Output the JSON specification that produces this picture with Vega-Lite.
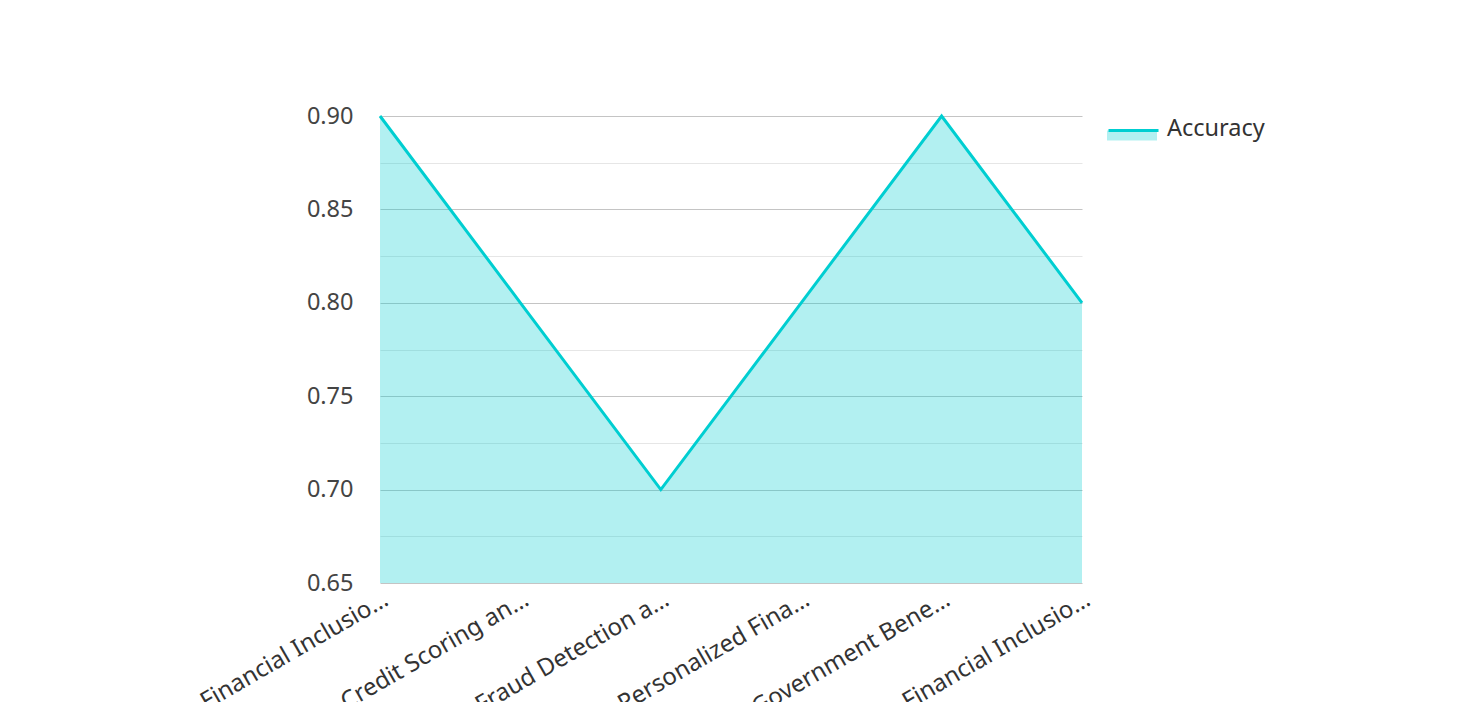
{
  "$schema": "https://vega.github.io/schema/vega-lite/v6.json",
  "width": 702,
  "height": 467,
  "autosize": {"type": "none"},
  "padding": {"left": 380, "top": 116, "right": 376, "bottom": 119},
  "background": "white",
  "config": {
    "font": "Noto Sans",
    "view": {"stroke": null}
  },
  "data": {
    "values": [
      {"category": "Financial Inclusion Assessment", "accuracy": 0.9, "series": "Accuracy"},
      {"category": "Credit Scoring and Risk", "accuracy": 0.8, "series": "Accuracy"},
      {"category": "Fraud Detection and Prevention", "accuracy": 0.7, "series": "Accuracy"},
      {"category": "Personalized Financial Advice", "accuracy": 0.8, "series": "Accuracy"},
      {"category": "Government Benefits Distribution", "accuracy": 0.9, "series": "Accuracy"},
      {"category": "Financial Inclusion Monitoring", "accuracy": 0.8, "series": "Accuracy"}
    ]
  },
  "encoding": {
    "x": {
      "field": "category",
      "type": "nominal",
      "sort": null,
      "scale": {"type": "point", "padding": 0},
      "axis": {
        "title": null,
        "labelAngle": -30,
        "labelAlign": "right",
        "labelBaseline": "top",
        "labelFontSize": 24,
        "labelColor": "#333333",
        "labelLimit": 226,
        "labelPadding": 4,
        "ticks": false,
        "domain": false,
        "grid": false
      }
    },
    "y": {
      "field": "accuracy",
      "type": "quantitative",
      "scale": {"domain": [0.65, 0.9], "nice": false, "zero": false},
      "axis": {
        "title": null,
        "values": [0.65, 0.675, 0.7, 0.725, 0.75, 0.775, 0.8, 0.825, 0.85, 0.875, 0.9],
        "labelExpr": "round(datum.value*1000) % 50 == 0 ? format(datum.value, '.2f') : ''",
        "labelFontSize": 23.5,
        "labelColor": "#444444",
        "labelPadding": 27,
        "ticks": false,
        "domain": false,
        "grid": true,
        "gridColor": {
          "condition": {"test": "round(datum.value*1000) % 50 == 0", "value": "#c4c4c4"},
          "value": "#e6e6e6"
        },
        "gridWidth": 1
      }
    }
  },
  "layer": [
    {
      "mark": {"type": "area", "fillOpacity": 0.3},
      "encoding": {
        "y2": {"datum": 0.65},
        "fill": {
          "field": "series",
          "type": "nominal",
          "scale": {"range": ["#00CED1"]},
          "legend": {
            "title": null,
            "orient": "none",
            "legendX": 727,
            "legendY": -12,
            "padding": 0,
            "symbolType": "M-1,0.06H1V0.46H-1Z",
            "symbolSize": 2500,
            "symbolOpacity": 0.3,
            "symbolStrokeWidth": 0,
            "labelFontSize": 23.5,
            "labelColor": "#333333",
            "labelOffset": 10
          }
        }
      }
    },
    {
      "mark": {"type": "line", "strokeWidth": 3},
      "encoding": {
        "stroke": {
          "field": "series",
          "type": "nominal",
          "scale": {"range": ["#00CED1"]},
          "legend": {
            "title": null,
            "orient": "none",
            "legendX": 727,
            "legendY": -12,
            "padding": 0,
            "symbolType": "M-1,0H1",
            "symbolSize": 2500,
            "symbolStrokeWidth": 3,
            "labelExpr": "''",
            "labelFontSize": 23.5,
            "labelOffset": 10
          }
        }
      }
    }
  ],
  "resolve": {"scale": {"fill": "independent", "stroke": "independent"}, "legend": {"fill": "independent", "stroke": "independent"}}
}
